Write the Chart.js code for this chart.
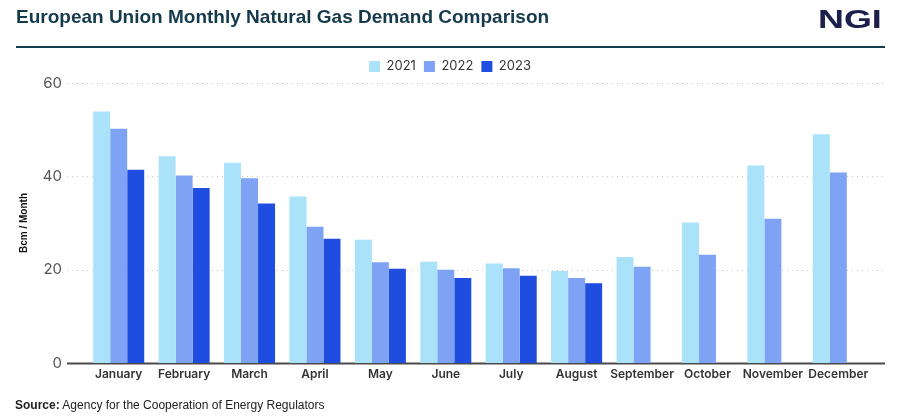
<!DOCTYPE html>
<html>
<head>
<meta charset="utf-8">
<script src="https://cdn.jsdelivr.net/npm/chart.js@4"></script>
<style>
    html, body { margin: 0; padding: 0; background: #fff; }
    #wrap { position: relative; width: 900px; height: 420px; overflow: hidden; }
    #chart { position: absolute; left: 0; top: 0; }
    .title { position: absolute; left: 16px; top: 6px; font: bold 19px "Liberation Sans", Arial, sans-serif; color: #143a4c; }
    .logo { position: absolute; left: 818px; top: 4px; font: bold 26px "Liberation Sans", Arial, sans-serif; color: #1c1f4b; transform: scaleX(1.38); transform-origin: left top; }
    .rule { position: absolute; left: 16px; top: 46px; width: 869px; height: 2px; background: #143a4c; }
    .source { position: absolute; left: 15px; top: 398px; font: 12px "Liberation Sans", Arial, sans-serif; color: #222; }
</style>
</head>
<body>
<div id="wrap">
    <canvas id="chart" width="900" height="420"></canvas>
    <div class="title">European Union Monthly Natural Gas Demand Comparison</div>
    <div class="logo">NGI</div>
    <div class="rule"></div>
    <div class="source"><b>Source:</b> Agency for the Cooperation of Energy Regulators</div>
</div>
<script>
const months = ['January', 'February', 'March', 'April', 'May', 'June', 'July', 'August', 'September', 'October', 'November', 'December'];
const demand2021 = [53.9, 44.3, 42.9, 35.7, 26.4, 21.7, 21.3, 19.7, 22.7, 30.1, 42.3, 49.0];
const demand2022 = [50.2, 40.2, 39.6, 29.2, 21.6, 20.0, 20.3, 18.2, 20.6, 23.2, 30.9, 40.8];
const demand2023 = [41.4, 37.5, 34.2, 26.6, 20.2, 18.2, 18.7, 17.1, null, null, null, null];
const yTicks = [0, 20, 40, 60];

// grid lines run a bit wider than the bars, like in the source chart
const wideGrid = {
    id: 'wideGrid',
    beforeDatasetsDraw(chart) {
        const ctx = chart.ctx;
        const y = chart.scales.y;
        const x0 = 67, x1 = 885;
        ctx.save();
        yTicks.forEach(v => {
            const py = Math.round(y.getPixelForValue(v)) + 0.5;
            ctx.beginPath();
            if (v === 0) {
                ctx.setLineDash([]);
                ctx.strokeStyle = '#4a4a4a';
                ctx.lineWidth = 2;
            } else {
                ctx.setLineDash([1, 4]);
                ctx.strokeStyle = '#c8c8c8';
                ctx.lineWidth = 1;
            }
            ctx.moveTo(x0, py);
            ctx.lineTo(x1, py);
            ctx.stroke();
        });
        ctx.restore();
    }
};

new Chart(document.getElementById('chart'), {
    type: 'bar',
    data: {
        labels: months,
        datasets: [
            { label: '2021', data: demand2021, backgroundColor: '#a9e2f9' },
            { label: '2022', data: demand2022, backgroundColor: '#7ea3f4' },
            { label: '2023', data: demand2023, backgroundColor: '#1e4de0' }
        ]
    },
    options: {
        responsive: false,
        animation: false,
        layout: { padding: { left: 29, right: 29, top: 52, bottom: 0 } },
        datasets: { bar: { barPercentage: 1.0, categoryPercentage: 0.78 } },
        plugins: {
            legend: {
                position: 'top',
                labels: {
                    boxWidth: 11, boxHeight: 11, padding: 8,
                    color: '#333',
                    font: { family: 'Inter', size: 13 }
                }
            },
            tooltip: { enabled: false }
        },
        scales: {
            x: {
                grid: { display: false, drawTicks: false },
                border: { display: false },
                ticks: {
                    autoSkip: false,
                    padding: 4,
                    color: '#333',
                    maxRotation: 0,
                    font: { family: 'Inter', size: 12, weight: '600' }
                },
                afterFit: s => { s.height = 57; }
            },
            y: {
                min: 0, max: 60,
                grid: { display: false, drawTicks: false },
                border: { display: false },
                ticks: {
                    stepSize: 20,
                    padding: 24,
                    color: '#555',
                    font: { family: 'Inter', size: 15 }
                },
                title: {
                    display: true,
                    text: 'Bcm / Month',
                    color: '#111',
                    padding: { top: -11, bottom: 0 },
                    font: { family: 'Liberation Sans', size: 10, weight: 'bold' }
                },
                afterFit: s => { s.width = 57; }
            }
        }
    },
    plugins: [wideGrid]
});
</script>
</body>
</html>
